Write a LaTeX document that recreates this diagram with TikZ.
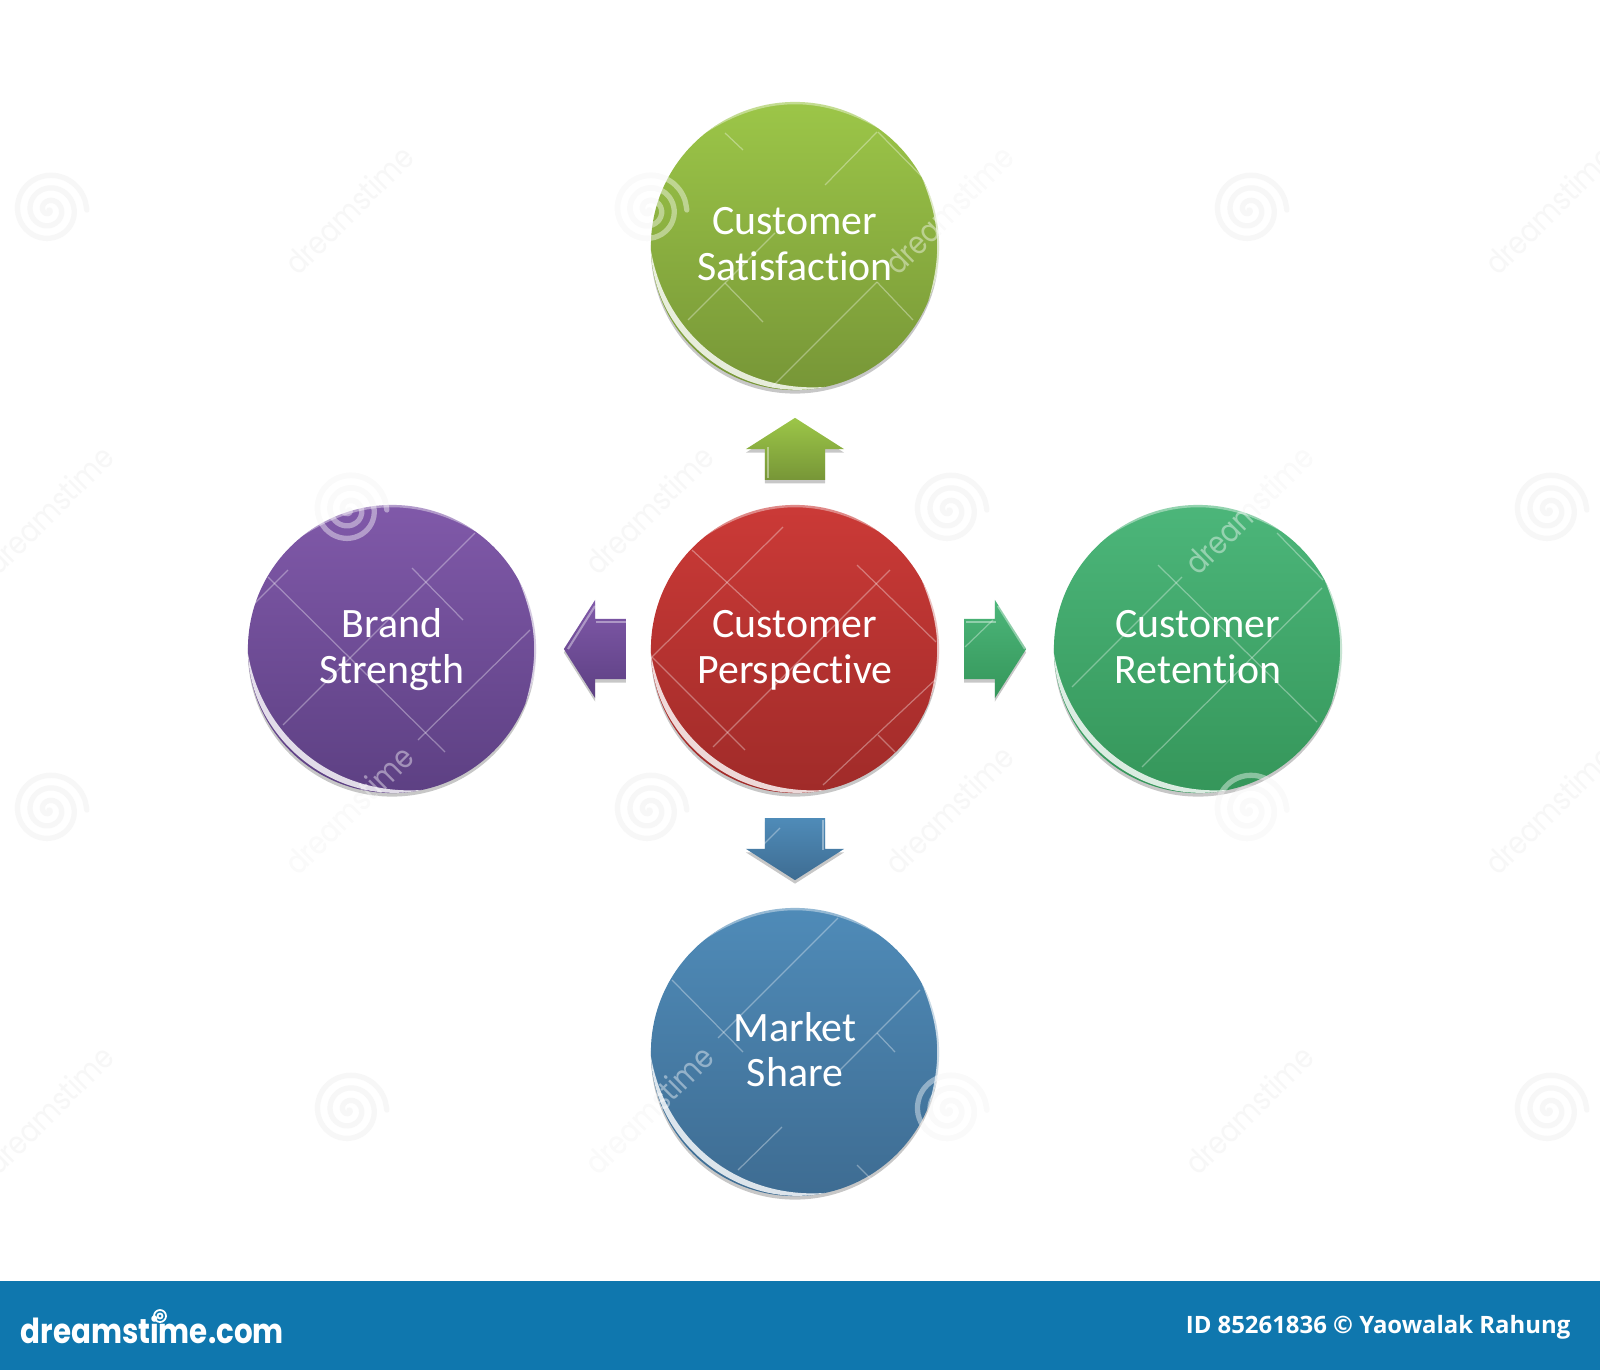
\documentclass[tikz,border=0pt]{standalone}
\usepackage{fontspec}
\setmainfont[Ligatures=NoCommon]{Carlito}
\newfontfamily\creditfont{Open Sans}
\newfontfamily\logofont[FakeStretch=.85,Ligatures=NoCommon]{Poppins}
\usetikzlibrary{positioning,shapes.arrows,shadows}

\definecolor{satTop}{HTML}{9CC648}
\definecolor{satBot}{HTML}{779637}
\definecolor{hubTop}{HTML}{CB3A37}
\definecolor{hubBot}{HTML}{A02B29}
\definecolor{retTop}{HTML}{4CB67A}
\definecolor{retBot}{HTML}{35965A}
\definecolor{braTop}{HTML}{8059A9}
\definecolor{braBot}{HTML}{5D4083}
\definecolor{marTop}{HTML}{4F8BB8}
\definecolor{marBot}{HTML}{3E6C92}
\definecolor{bandBlue}{HTML}{0F77AE}

\tikzset{
  softshadow/.style={drop shadow={shadow xshift=0pt,shadow yshift=-1pt,opacity=.22,fill=black}},
  bubble/.style={circle,minimum size=2.88cm,inner sep=0,outer sep=0,softshadow},
  bubbletext/.style={align=center,text=white,inner sep=0,yshift=-.025cm,font=\fontsize{11.9}{12.8}\selectfont},
  blockarrow/.style={single arrow,inner sep=0,outer sep=0,text depth=0,
    minimum height=.62cm,single arrow head extend=.19cm,single arrow head indent=0,
    single arrow tip angle=115,softshadow},
  rimlight/.style={white,opacity=#1},
  waterline/.style={white,opacity=.34,line width=.35pt},
  arrowedge/.style={white,opacity=.4,line width=.6pt},
  wmfaint/.style={black!3,text=black!3},
  wmwhite/.style={white,text=white,opacity=.42}
}

\newcommand{\wmtiles}[3]{
  \foreach \x/\y in {#2}
    \draw[#1,line width=1.5pt,line cap=round,shift={(\x,\y)}]
      plot[variable=\t,domain=0:1080,samples=70,smooth] ({\t*0.035*cos(\t)},{\t*0.035*sin(\t)});
  \foreach \x/\y/\i in {#3}
    \node[#1,rotate=45,inner sep=0,font=\logofont\fontsize{9}{10}\selectfont]
      (wm#1\i) at (\x,\y) {dreamstime};
}

\begin{document}
\begin{tikzpicture}[x=0.01cm,y=-0.01cm,node distance=.25cm]
\useasboundingbox (0,0) rectangle (1600,1370);
\fill[white] (0,0) rectangle (1600,1370);
\wmtiles{wmfaint}{49/210,649/210,1249/210,349/510,949/510,1549/510,
                  49/810,649/810,1249/810,349/1110,949/1110,1549/1110}
                 {349/210/a,949/210/b,1549/210/c,49/510/d,649/510/e,1249/510/f,
                  349/810/g,949/810/h,1549/810/i,49/1110/j,649/1110/k,1249/1110/l}

\foreach \n/\x/\y in {sat/795/246, hub/795/649, ret/1198/649, bra/392/649, mar/795/1052}
    \node[bubble,top color=\n Top,bottom color=\n Bot] (\n) at (\x,\y) {};

\foreach \a/\r/\p/\c/\tw/\th in {upArrow/90/above/sat/.59cm/0cm, rightArrow/0/right/ret/0cm/.59cm,
                                 downArrow/270/below/mar/.59cm/0cm, leftArrow/180/left/bra/0cm/.59cm}
    \node[blockarrow,text width=\tw,text height=\th,shape border rotate=\r,\p=of hub,
          top color=\c Top,bottom color=\c Bot] (\a) {};

\foreach \n in {sat,hub,ret,bra,mar} {
    \fill[rimlight=.82] (\n.182) to[bend right=50] (\n.282) to[bend left=42] cycle;
    \fill[rimlight=.4] (\n.55) to[bend right=36.5] (\n.128) to[bend left=31] cycle;
    \fill[rimlight=.7] (\n.-22) to[bend right=25] (\n.28) to[bend left=19] cycle;
}

\foreach \xa/\ya/\xb/\yb in {
    725/133/743/150, 877/132/825/185, 878/132/932/187, 775/233/688/320,
    725/283/763/322, 877/282/772/387, 877/282/913/320,
    783/527/652/657, 692/550/760/613, 652/657/745/750, 857/565/936/642,
    890/570/713/747, 935/680/823/785, 878/735/895/752,
    475/533/283/725, 268/577/445/752, 288/570/253/605, 412/568/463/620, 530/630/418/740,
    1158/565/1317/722, 1182/577/1072/687, 1322/588/1142/767, 1277/533/1323/580,
    838/918/718/1038, 672/980/743/1052, 920/990/838/1072, 877/1033/895/1052,
    782/1127/738/1170, 857/1165/872/1180,
    993/620/965/647, 780/828/763/845}
    \draw[waterline] (\xa,\ya) -- (\xb,\yb);

\foreach \xa/\ya/\xb/\yb in {
    768/447/768/478, 966/622/996/622, 998/606/1025/649,
    823/820/823/850, 568/649/595/606, 596/622/626/622}
    \draw[arrowedge] (\xa,\ya) -- (\xb,\yb);

\wmtiles{wmwhite}{649/210,349/510,1249/810,949/1110}
                 {949/210/b,1249/510/f,349/810/g,649/1110/k}

\foreach \n/\t in {sat/Customer\\Satisfaction, hub/Customer\\Perspective,
                   ret/Customer\\Retention, bra/Brand\\Strength, mar/Market\\Share}
    \node[bubbletext] (\n label) at (\n) {\strut\t\strut};

\fill[bandBlue] (0,1281) rectangle (1600,1370);
\node[anchor=base west,inner sep=0,text=white,font=\logofont\bfseries\fontsize{9.8}{10}\selectfont]
    (logo) at (20,1343) {dreamstime.com};
\draw[white,line width=.5pt] (160,1316) circle[radius=6];
\draw[white,line width=.5pt] (160,1316) circle[radius=2.5];
\node[anchor=base east,inner sep=0,text=white,font=\creditfont\bfseries\fontsize{6.8}{8}\selectfont]
    (credit) at (1571,1333) {ID 85261836 © Yaowalak Rahung};
\end{tikzpicture}
\end{document}
